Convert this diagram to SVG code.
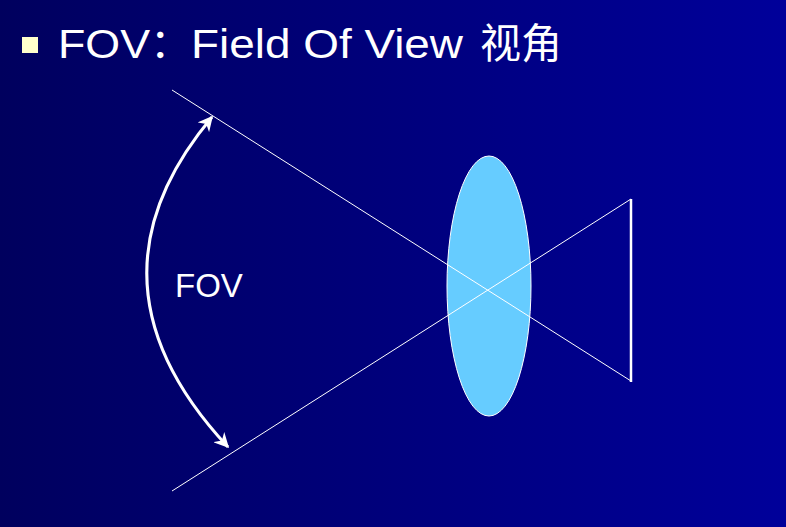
<svg xmlns="http://www.w3.org/2000/svg" width="786" height="527" viewBox="0 0 786 527">
<defs>
<linearGradient id="bg" x1="0" y1="0" x2="1" y2="0"><stop offset="0" stop-color="#00005e"/><stop offset="1" stop-color="#00009a"/></linearGradient>
<marker id="ah" viewBox="0 0 10 10" refX="9" refY="5" markerWidth="5" markerHeight="5" orient="auto-start-reverse"><path d="M0,0 L10,5 L0,10 L3,5 Z" fill="#fff"/></marker>
<style>text{font-family:"Liberation Sans","Noto Sans CJK SC",sans-serif;fill:#fff}.ln{stroke:#fff;stroke-width:1;fill:none}</style>
</defs>
<rect width="786" height="527" fill="url(#bg)"/>
<g id="title"><rect x="22" y="37" width="16" height="16" fill="#ffffcc"/><text y="58" font-size="41"><tspan x="58" textLength="92" lengthAdjust="spacingAndGlyphs">FOV</tspan><tspan x="150">：</tspan><tspan x="191" textLength="272" lengthAdjust="spacingAndGlyphs">Field Of View</tspan><tspan x="480">视角</tspan></text></g>
<g id="lens"><ellipse cx="489" cy="286" rx="42" ry="130" fill="#66ccff" stroke="#fff" stroke-width="1"/></g>
<g id="connectors">
<line class="ln" x1="172" y1="90" x2="631" y2="381"/>
<line class="ln" x1="172" y1="491" x2="631" y2="199"/>
<line x1="631" y1="199" x2="631" y2="382" stroke="#fff" stroke-width="2.5"/>
<path d="M212,117 Q74,282 228,447" fill="none" stroke="#fff" stroke-width="3" marker-start="url(#ah)" marker-end="url(#ah)"/>
</g>
<g id="fov-label"><text x="175" y="297" font-size="33">FOV</text></g>
</svg>
